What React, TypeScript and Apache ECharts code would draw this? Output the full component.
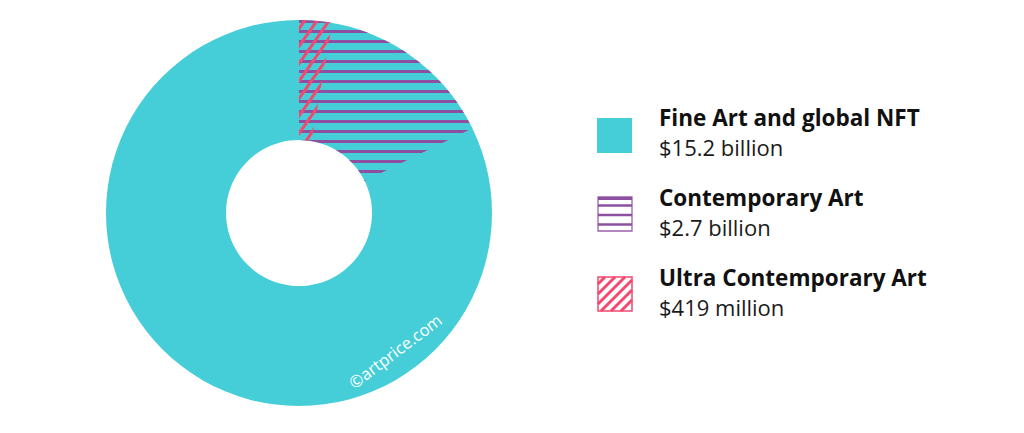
import React, { useEffect, useRef } from 'react';
import * as echarts from 'echarts';

// ---- data ----
const categories = ['Fine Art and global NFT', 'Contemporary Art', 'Ultra Contemporary Art'];
const valueLabels = ['$15.2 billion', '$2.7 billion', '$419 million'];
const valuesBillion = [15.2, 2.7, 0.419];
const watermark = '©artprice.com';

// ---- style ----
const CYAN = '#45ced8';
const PURPLE = '#8d4f9f';
const PINK = '#f4486f';
const FONT = '"Open Sans", "Noto Sans", sans-serif';

const CENTER: [number, number] = [299, 213];
const RADIUS: [number, number] = [73, 193];

function pieBase() {
  return {
    type: 'pie' as const,
    radius: RADIUS,
    center: CENTER,
    startAngle: 90,
    clockwise: true,
    silent: true,
    label: { show: false },
    labelLine: { show: false },
    emphasis: { disabled: true },
  };
}

function legendGraphics() {
  const bx = 598;
  const size = 34;
  const tops = [118, 197, 277];
  const tx = 659;
  const els: any[] = [];
  // row 1: solid cyan
  els.push({ type: 'rect', z: 10, shape: { x: bx - 1, y: tops[0], width: size + 1, height: size + 1 }, style: { fill: CYAN } });
  // row 2: purple horizontal stripes
  els.push({ type: 'rect', z: 10, shape: { x: bx, y: tops[1], width: size, height: size }, style: { fill: '#fff', stroke: '#9a62ad', lineWidth: 1.3 } });
  [1.5, 8.5, 18, 27.5].forEach((dy, i) => {
    els.push({ type: 'line', z: 11, shape: { x1: bx, y1: tops[1] + dy, x2: bx + size, y2: tops[1] + dy }, style: { stroke: PURPLE, lineWidth: i === 0 ? 3 : 2.5 } });
  });
  // row 3: pink diagonal stripes "/"
  els.push({ type: 'rect', z: 10, shape: { x: bx, y: tops[2], width: size, height: size }, style: { fill: '#fff', stroke: PINK, lineWidth: 1.5 } });
  [7, 17, 27, 37, 47, 57].forEach((c) => {
    const x1 = Math.max(0, c - size);
    const x2 = Math.min(size, c);
    els.push({
      type: 'line', z: 11,
      shape: { x1: bx + x1, y1: tops[2] + (c - x1), x2: bx + x2, y2: tops[2] + (c - x2) },
      style: { stroke: PINK, lineWidth: 3 },
    });
  });
  categories.forEach((name, i) => {
    const base = 127 + i * 80;
    els.push({
      type: 'text', z: 10, x: tx, y: base - 9.6,
      style: { text: name, font: `bold 22.5px ${FONT}`, fill: '#111', align: 'left', verticalAlign: 'middle' },
    });
    els.push({
      type: 'text', z: 10, x: tx, y: base + 28 - 8.0,
      style: { text: valueLabels[i], font: `22px ${FONT}`, fill: '#1a1a1a', align: 'left', verticalAlign: 'middle' },
    });
  });
  els.push({
    type: 'text', z: 100, x: 395, y: 351, rotation: (37 * Math.PI) / 180,
    style: { text: watermark, font: `16.5px ${FONT}`, fill: '#ffffff', align: 'center', verticalAlign: 'middle' },
  });
  return els;
}

export default function App() {
  const ref = useRef<HTMLDivElement>(null);
  useEffect(() => {
    if (!ref.current) return;
    const chart = echarts.init(ref.current, null, { renderer: 'svg' });
    const total = valuesBillion[0];
    chart.setOption({
      animation: false,
      backgroundColor: '#ffffff',
      series: [
        {
          ...pieBase(),
          name: categories[0],
          data: [{ name: categories[0], value: total, itemStyle: { color: CYAN } }],
        },
        {
          ...pieBase(),
          name: categories[1],
          data: [
            {
              name: categories[1],
              value: valuesBillion[1],
              itemStyle: {
                color: 'rgba(0,0,0,0)',
                decal: { symbol: 'rect', symbolSize: 1, dashArrayX: [1, 0], dashArrayY: [3, 7], rotation: 0, color: PURPLE },
              },
            },
            { name: 'rest', value: total - valuesBillion[1], itemStyle: { color: 'rgba(0,0,0,0)' } },
          ],
        },
        {
          ...pieBase(),
          name: categories[2],
          data: [
            {
              name: categories[2],
              value: valuesBillion[2],
              itemStyle: {
                color: 'rgba(0,0,0,0)',
                decal: { symbol: 'rect', symbolSize: 1, dashArrayX: [1, 0], dashArrayY: [3, 7], rotation: (-55 * Math.PI) / 180, color: PINK },
              },
            },
            { name: 'rest2', value: total - valuesBillion[2], itemStyle: { color: 'rgba(0,0,0,0)' } },
          ],
        },
      ],
      graphic: { elements: legendGraphics() },
    });
    return () => chart.dispose();
  }, []);
  return <div ref={ref} style={{ position: 'fixed', left: 0, top: 0, width: 1024, height: 433 }} />;
}
